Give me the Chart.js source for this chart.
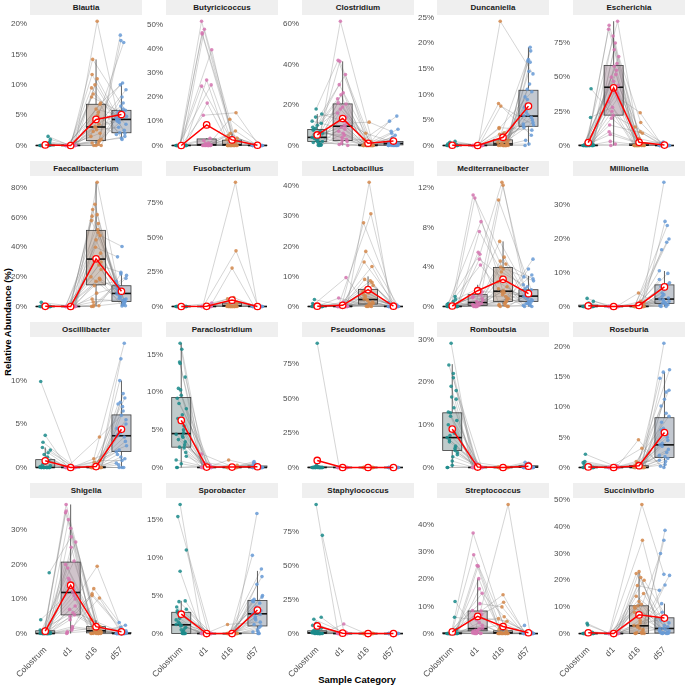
<!DOCTYPE html>
<html>
<head>
<meta charset="utf-8">
<script src="https://cdn.jsdelivr.net/npm/chart.js@4.4.1/dist/chart.umd.min.js"></script>
<style>
  body { margin: 0; background: #fff; font-family: 'Liberation Sans', Arial, sans-serif; }
  #wrap { position: relative; width: 685px; height: 685px; overflow: hidden; background: #fff; }
  canvas { position: absolute; }
  .strip { position: absolute; width: 112px; height: 15px; background: #efefef; color: #1a1a1a;
           font: bold 8px 'Liberation Sans', Arial, sans-serif; line-height: 15px; text-align: center; }
  .ytitle { position: absolute; left: 7px; top: 322px; white-space: nowrap; color: #000;
            font: bold 9.5px 'Liberation Sans', Arial, sans-serif; transform: translate(-50%, -50%) rotate(-90deg); }
  .xtitle { position: absolute; left: 357px; top: 679px; white-space: nowrap; color: #000;
            font: bold 9.5px 'Liberation Sans', Arial, sans-serif; transform: translate(-50%, -50%); }
</style>
</head>
<body>
<div id="wrap">
  <div class="ytitle">Relative Abundance (%)</div>
  <div class="xtitle">Sample Category</div>
</div>
<script>
// sample groups and genera (panels, left to right, top to bottom)
const CATEGORIES = ['Colostrum', 'd1', 'd16', 'd57'];
const GENERA = ['Blautia', 'Butyricicoccus', 'Clostridium', 'Duncaniella', 'Escherichia',
  'Faecalibacterium', 'Fusobacterium', 'Lactobacillus', 'Mediterraneibacter', 'Millionella',
  'Oscillibacter', 'Paraclostridium', 'Pseudomonas', 'Romboutsia', 'Roseburia',
  'Shigella', 'Sporobacter', 'Staphylococcus', 'Streptococcus', 'Succinivibrio'];

// y tick labels per panel (%)
const Y_TICKS = [
  [0, 5, 10, 15, 20], [0, 10, 20, 30, 40, 50], [0, 20, 40, 60], [0, 5, 10, 15, 20, 25], [0, 25, 50, 75],
  [0, 20, 40, 60, 80], [0, 25, 50, 75], [0, 10, 20, 30, 40], [0, 4, 8, 12], [0, 10, 20, 30],
  [0, 5, 10], [0, 5, 10, 15], [0, 25, 50, 75], [0, 10, 20, 30], [0, 5, 10, 15, 20],
  [0, 10, 20, 30], [0, 5, 10, 15], [0, 25, 50, 75], [0, 10, 20, 30, 40], [0, 10, 20, 30, 40, 50]
];

// group means (red line), per panel: Colostrum, d1, d16, d57
const MEAN = [
  [0.1, 0, 4.3, 5.1], [0, 8.5, 2.3, 0.1], [5.2, 13.3, 1.1, 2.2], [0.05, 0, 1.6, 7.7], [2.1, 42.2, 2.3, 0.3],
  [0.1, 0, 32.2, 10.3], [0, 0.1, 4.6, 0], [0.1, 0.4, 5.6, 0.1], [0.05, 1.6, 2.75, 1.3], [0.2, 0, 0.3, 5.8],
  [0.77, 0, 0.1, 4.4], [6.25, 0.05, 0.05, 0.1], [5.1, 0, 0, 0], [9, 0.1, 0, 0.3], [0.1, 0, 0.3, 5.8],
  [0.7, 14, 2, 0.5], [2.55, 0, 0, 3.1], [5.6, 0.3, 0, 0], [0.6, 6.3, 2.6, 0.3], [0.3, 0, 7, 5.8]
];

// boxplot statistics
const WHISK_LO = [
  [0, 0, 0, 1.0], [0, 0, 0, 0], [0, 0, 0, 0], [0, 0, 0, 0], [0, 0, 0, 0],
  [0, 0, 0, 0.3], [0, 0, 0, 0], [0, 0, 0, 0], [0, 0, 0, 0], [0, 0, 0, 0],
  [0, 0, 0, 0], [0, 0, 0, 0], [0, 0, 0, 0], [0, 0, 0, 0], [0, 0, 0, 0],
  [0, 0, 0, 0], [0, 0, 0, 0], [0, 0, 0, 0], [0, 0, 0, 0], [0, 0, 0, 0]
];
const Q1 = [
  [0, 0, 0.8, 2.1], [0, 0, 0, 0], [2, 2.4, 0, 0.3], [0, 0, 0, 3.75], [0, 22.2, 0, 0],
  [0, 0, 14.6, 3.4], [0, 0, 0, 0], [0, 0, 0.8, 0], [0, 0.1, 0.5, 0.5], [0, 0, 0, 0.9],
  [0, 0, 0, 1.85], [2.7, 0, 0, 0], [0, 0, 0, 0], [4, 0, 0, 0], [0, 0, 0, 1.65],
  [0, 5.4, 0.2, 0], [0, 0, 0, 1], [0, 0, 0, 0], [0, 1, 0, 0], [0, 0, 0, 0.2]
];
const MEDIAN = [
  [0, 0, 3.05, 4.3], [0, 0.3, 0.3, 0], [4, 9.5, 0, 1], [0, 0, 0.3, 5.75], [0, 42.6, 0.2, 0],
  [0, 0, 32, 8.8], [0, 0, 0.5, 0], [0, 0, 2.3, 0], [0, 0.4, 1.55, 1.05], [0, 0, 0, 2.2],
  [0, 0, 0, 3.65], [4.5, 0, 0, 0], [0, 0, 0, 0], [7, 0, 0, 0.1], [0, 0, 0, 3.75],
  [0, 11.9, 0.8, 0], [1.15, 0, 0, 2.6], [0.5, 0, 0, 0], [0, 1.8, 0.3, 0], [0, 0, 2.9, 1.9]
];
const Q3 = [
  [0, 0, 6.8, 5.8], [0, 2.7, 2.2, 0.1], [7.9, 20.5, 0.5, 2], [0, 0, 1.1, 10.8], [0.3, 58.5, 1.2, 0],
  [0, 0, 51.4, 14], [0, 0, 2.5, 0], [0, 0.2, 5.7, 0], [0, 1.2, 3.95, 1.7], [0.4, 0, 0.1, 6.4],
  [0.9, 0, 0.1, 6.05], [9.3, 0, 0, 0.2], [0.2, 0, 0, 0], [12.8, 0, 0, 0.4], [0, 0, 0.3, 8.25],
  [0.8, 20.7, 2, 0.3], [2.8, 0, 0, 4.35], [2, 0, 0, 0], [0.3, 8.3, 1, 0], [0, 0, 10.4, 5.9]
];
const WHISK_HI = [
  [0, 0, 14.2, 10.3], [0, 3, 5, 0.2], [15.5, 41.5, 1, 4], [0, 0, 2.5, 19.2], [0.8, 90.9, 3, 0],
  [0, 0, 83.9, 23], [0, 0, 5.5, 0], [0, 0.5, 10, 0], [0.2, 2.2, 6.6, 3.1], [1, 0, 0.3, 10.5],
  [2.3, 0, 0.2, 10], [16.5, 0, 0, 0.5], [0.5, 0, 0, 0], [24.2, 0, 0, 1], [0.2, 0, 0.8, 15.8],
  [1.8, 37.4, 3.9, 0.8], [4.3, 0, 0, 8.25], [4.5, 0, 0, 0], [0.8, 20.2, 2.5, 0], [0.3, 0, 22.9, 11.2]
];

// per-subject relative abundance (%), same subject order in every group of a panel
const COLOSTRUM = [
  [0,0,1.5,0,0,0.4,0,0,1.0,0, 0,0,0.2,0,0,0,0.6,0,0,0, 0,0.3,0,0,0,0,0,0.1,0,0],
  [0,0,0,0,0,0,0,0,0,0, 0,0,0,0,0,0,0,0,0.2,0, 0,0,0,0,0,0,0,0,0,0],
  [4,18,0.5,7.5,2,11,3.5,0,6,14, 1,9,4.5,0.3,8,2.5,15.5,5,0.8,12, 3,7,1.5,10,0.2,5.5,4,2,8.5,0],
  [0,0,0.8,0,0,0,0.5,0,0,0, 0,0.3,0,0,0,0,0,0.6,0,0, 0,0,0,0,0.2,0,0,0,0,0],
  [0,0,41.5,0,1,0,0,0,0.5,0, 20.5,0,0,2,0,0,0,0,1.5,0, 0,0,0.3,0,0,0,0,0,0,0.8],
  [0,0,0,2.8,0,0,0,0,0,0, 0,0,0.2,0,0,0,0,0,0,0, 0,0,0,0,0,0.4,0,0,0,0],
  [0,0,0,0,0,0,0,0,0,0, 0,0,0,0,0,0,0,0,0,0, 0,0,0,0,0,0,0,0,0,0],
  [0,0,0,0.5,0,0,2.3,0,0,0, 0,1,0,0,0,0,0,0,0.3,0, 0,0,0,0,0,0,0,0,0,0],
  [0,0,1.0,0,0,0,0,0.5,0,0, 0,0,0,0.7,0,0,0,0,0,0.2, 0,0,0.3,0,0,0,0,0,0,0],
  [0,2.4,0,0,0.5,0,0,0,1.5,0, 0,0,0.2,0,0,1,0,0,0,0, 0,0.4,0,0,0,0,0,0,0,0],
  [0,1.5,0,0,3.7,0,0.3,0,2.0,0, 0,9.9,0,0.8,0,1.0,0,2.9,0,0.1, 0,1.7,0,0.5,0,2.3,0,0.2,0,1.2],
  [4.4,16.5,2.6,9.2,0.5,12,3.7,7,1.5,14, 4.6,0,10.3,3,6.5,15.7,2,8.5,4,1, 13.8,5.5,0,9.6,3.4,10.5,4.2,7.8,2.7,5],
  [0,0,0,0,90.3,0,0,0.5,0,0, 0,0,1.5,0,0,0,0,0,0,0, 1,0,0,0,0,0.3,0,0,0,0],
  [7,29.1,4,13,0.5,18,6,22,3,12, 9,0,16.5,5,24,2.5,11,7.5,14,0, 19,4.5,10,1.5,16,6.5,21,3.5,12.8,8],
  [0,0,0,0.5,0,0,2.2,0,0,0, 0.3,0,0,0,1,0,0,0,0,0.8, 0,0,0,0.2,0,0,0,0,0,0],
  [0,0,0,0.8,0,17.6,0,0,0.3,0, 0,4.0,0,0,0,0.5,0,0,0,1.0, 0,0,0.2,0,0,0,0,0,0,0],
  [1.2,17,0,2.8,0.5,4.3,1.5,0,11,2, 0.3,3.5,1,0,15.4,2.4,0.8,4.2,0,1.8, 8.2,0.6,3,1.1,0,2.6,0.2,3.2,1.3,0],
  [0.5,95.3,0,2,0,12,1,0,72.5,0.3, 0,6,1.5,0,10.5,0.2,0,3,0,0.8, 7.5,0,1.2,0,4,0,2.5,0,0,0],
  [0,0,11.8,0,0.5,0,0,1.2,0,0, 6,0,0,0.3,0,0,1.5,0,0,0, 0.8,0,0,0,0,0,0,0,0,0],
  [0,3.8,0,0,0,0.5,0,0,0,0, 0,0,3.2,0,0,0.8,0,0,0,0, 0,0,0,0.3,0,0,0,0,0,0]
];
const D1 = [
  [0,0,0,0,0,0,0,0,0,0, 0,0,0,0,0,0,0,0,0,0, 0,0,0,0,0,0,0,0,0,0],
  [0,46.5,0.3,0,12.5,0,25,0,1,51.3, 0,0.5,0,27,0,2,0,39.5,0.1,0, 46,0,3,0,17.5,0.2,48,0,24.5,0.8],
  [9.5,42,2.4,20.5,0.5,26,11,61.3,5,16, 1,35,7,19,3,41.5,12,0,25,8, 21,4,14,30,6,2,18,10,23,9],
  [0,0,0,0,0,0,0,0,0,0, 0,0,0,0,0,0,0,0,0,0, 0,0,0,0,0,0,0,0,0,0],
  [43,88,22,60,8,70,35,50,1,85, 28,55,15,47,90.9,0,40,65,25,52, 10,80,38,3,58,44,20,75,32,42],
  [0,0,0,0,0,0,0,0,0,0, 0,0,0,0,0,0,0,0,0,0, 0,0,0,0,0,0,0,0,0,0],
  [0,0,0,0,0,0,0,0,0,0, 0,0,0,0,0,0,0,2.5,0,0, 0,0,0,0,0,0,0,0,0,0],
  [0,0,0,9.6,0,0,0,0.5,0,0, 0,0,2.8,0,0,0,0,0,0,1, 0,0,0,0,1.5,0,0,0.3,0,0],
  [0.3,11.3,0,1.2,0.1,5.5,0.8,0,7.6,0.2, 0.5,4.2,0,1.8,0.3,11,0.1,0.6,0,5.3, 1,0.2,8.6,0,0.4,1.5,0,4.8,0.9,0],
  [0,0,0,0,0,0,0,0,0,0, 0,0,0,0,0,0,0,0,0,0, 0,0,0,0,0,0,0,0,0,0],
  [0,0,0,0,0,0,0,0,0,0, 0,0,0,0,0,0,0,0,0,0, 0,0,0,0,0,0,0,0,0,0],
  [0,0,0,0,0,0,0,0,0,1.8, 0,0,0,0,0,0.7,0,0,0,0, 0,0,0.3,0,0,0,0,0,0,0],
  [0,0,0,0,0,0,0,0,0,0, 0,0,0,0,0,0,0,0,0,0, 0,0,0,0,0,0,0,0,0,0],
  [0,0,0,0,0,0,0,1.2,0,0, 0,0,0,0,0,0.5,0,0,0,0, 0,0,0,0,0,0,0.2,0,0,0],
  [0,0,0,0,0,0,0,0,0,0, 0,0,0,0,0,0,0,0,0,0, 0,0,0.3,0,0,0,0,0,0,0],
  [12,37.4,5,21,0.5,28,10,16,2,35, 7,13,0,30.5,5.4,19,1,26.5,14,6, 35.5,4,11,0.2,25,8,33,1.5,20,15.5],
  [0,0,0,0,0,0,0,0,0,0, 0,0,0,0,0,0,0,0,0,0, 0,0,0,0,0,0,0,0,0,0],
  [0,0,0,0,0,0,0,0,0,0, 0,0,0,0,0,0,7,0,0,0, 0,0,1,0,0,0,0,0,0.5,0],
  [1.8,37,0.5,8.3,0,24.8,3,1.2,16.5,0.2, 5,0,29,1,7,0.3,20.2,2,0,11, 0.8,25,0.1,6,1.5,14.8,0,4,8.5,0],
  [0,0,0,0,0,0,0,0,0,0, 0,0,0,0,0,0,0,0,0,0, 0,0,0,0,0,0,0,0,0,0]
];
const D16 = [
  [3.1,0.6,11.7,0,6.8,2.3,20.5,1.0,4.5,0.2, 9.5,3.0,0.8,14.2,2.6,7.0,0,5.0,1.5,10.0, 3.5,0.4,6.0,2.0,8.5,11.0,0,4.0,5.5,8.0],
  [0,2,0,0.5,13.5,0,0,3,0,1, 0,0,6,0,0.2,0,10.8,0,2.5,0, 0,4,0,1.5,0,0.3,0,5,0,0],
  [0,0,3,0,0,0,11.5,0,0,0.5, 0,0,0,1,0,0,6,0,0,0, 2,0,0,0,0.3,0,0,0,0,0],
  [0.5,0,3.5,0,0.2,24.3,0,1,0.3,0, 8.2,0.1,0,2.2,0,0.4,7.7,0,0.6,1.5, 0,3.3,0,0.3,0,2.5,0,1.2,0.8,0],
  [0,0,13.5,0,0.5,0,24,0,0,2, 0,0,9,0,0,0.3,0,16.8,0,0, 1,0,5,0,0,10,0,3,0,0],
  [32,0.5,61,17,48,3,83.9,25,14,56, 0,40,19,65.5,9,36,1,52,20,69, 28,5,45,18,0,62,30,33,50,58],
  [0,0,1,0,40.3,0,0,3,0,0, 0.5,0,90,0,0,2,0,6.5,0,0, 0.3,0,27.8,0,1.5,0,0,4,0,5.5],
  [2.3,0.5,14.8,0,8,3.5,41.3,1,6,0.2, 27.8,2,0,9,4.5,1.5,18.3,0.8,5,0, 30.8,2.5,0.3,13.3,3,1.2,7,0.1,8.5,4],
  [1.5,4.3,0.2,12.3,2.0,0,5.0,0.8,3.5,0.1, 10.8,1.2,0.5,6.6,1.6,0,4.0,0.3,2.5,12.6, 1.0,0.1,3.8,0.7,4.6,1.4,0,3.0,0.4,1.8],
  [0,0,0,0,0,0,0.5,0,0,0, 0,4,0,0,0,0,0,1.5,0,0, 0,0,0.2,0,0,0,1,0,0,0],
  [0,0,0,0,0,0,0.4,0,0,0, 0,0,3.5,0,0,0,1.0,0,0,0.2, 0,0,0,0.8,0,0,0,0.6,0,0],
  [0,0,0,0,0,0,0,0,0,0, 0,0,0,1.0,0,0,0,0,0,0, 0,0,0,0,0,0,0.3,0,0,0],
  [0,0,0,0,0,0,0,0,0,0, 0,0,0,0,0,0,0,0,0,0, 0,0,0,0,0,0,0,0,0,0],
  [0,0,0,0,0,0,0,0,0,0, 0,0,0,0,0,0,0,0,0.1,0, 0,0,0,0,0,0,0,0,0,0],
  [0,0,0,0,0,0.5,0,0,0,0, 0,4.6,0,0,0,0,0.2,0,0,0, 3.2,0,0,0,1.0,0,0,0.8,0,0.3],
  [0.8,0,11.5,0.2,2,0,19.5,0.5,1.2,0, 4,0.3,10.3,0.1,1.5,0,13,0.7,0,2.5, 0.4,11,0,0.9,1.8,0,0.2,1,0,0],
  [0,0,0,0,0,0,0,0,0,0, 1.2,0,0,0,0,0,0,0,0,0, 0,0,0,0,0,0,0,0,0,0],
  [0,0,0,0,0,0,0,0,0,0, 0,0,0,0,0,0,0,0,0,0, 0,0,0,0,0,0,0,0,0,0],
  [0,0.5,0,14.3,0,2.5,0,47.5,0.2,0, 5.5,0,1,0,11.5,0,0.3,3.5,0,9.8, 0,1.5,0,4.5,0,6.2,0,0,0,0],
  [2.9,48.4,0,12,1,22.5,4,0,18,0.5, 10,7,35,0,2,15,0.3,21,3,10.4, 0,9.5,23.2,1.5,14,5,20,2.5,11,8]
];
const D57 = [
  [4.3,17.3,2.0,5.5,1.0,9.2,3.8,6.0,4.5,18.2, 2.5,4.0,1.2,5.8,3.0,10.3,4.8,2.1,17.0,4.2, 6.5,1.5,5.0,8.0,3.5,4.3,7.0,1.8,10.0,5.2],
  [0,0,0,0,0.5,0,0,0,0,0, 0,0.2,0,0,0,0,0,0,0,0, 0.1,0,0,0,0,0,0,0,0,0],
  [1,0,14.5,0.5,2,0,7,1.5,0,4, 0.3,12,0,1,2.5,0,0.8,6,0,0.5, 3,0,1.5,0.2,8,0,5,0,2,0],
  [5.8,16.5,3,9.5,0.3,14,6.5,19.2,4.2,11, 2,7.5,16.8,5,1,12,4,8,18.5,3.5, 6,10.5,0,14.5,4.5,7,16.3,3.8,9,5.5],
  [0,0,0,1,0,0,0,0,0,2.5, 0,0,0,0,0,0.5,0,0,0,0, 0,0,1.5,0,0,0,0,0,0,0],
  [8.5,22,3,14,40.5,5,11,1,17,6, 2.5,33.5,9,0.5,13,4,21,7,1.5,12, 23,3.5,10,0.3,19,5.5,2,15,8,4.5],
  [0,0,0,0,0,0,0,0,0,0, 0,0,0,0,0,0,0,0,0,0, 0,0,0,0,0,0,0,0,0,0],
  [0,0,0,0,0,0,0,0,1.3,0, 0,0,0,0,0,0,0,0,0,0, 0,0.5,0,0,0,0,0,0,0,0],
  [1.0,0.3,3.2,1.5,0.5,4.8,1.1,0.1,2.2,0.8, 1.7,0,3.8,0.6,1.2,0.2,2.6,1.0,0.4,3.0, 0.9,0,1.8,0.5,2.8,0.3,1.4,0.1,2.0,0.7],
  [2.2,36.8,0.5,6,1.2,20,3,0,10.6,1.8, 24,0.3,5,2.5,16.8,0.8,7,1,19,0.2, 3.5,9.8,0,25.2,1.5,4,0.6,8,2,6.5],
  [3.6,12.5,1,7.3,0,5,2,8.5,0.5,4, 14.3,1.5,6,3,0.3,7,2.5,10,0,4.5, 1.2,8,3.8,0.8,5.5,0,6.5,1.8,7.5,3.5],
  [0,0.3,0,0.8,0,0,0.5,0,0.2,0, 0,0.6,0,0,0.4,0,0,0.1,0,0, 0,0,0,0,0,0,0,0,0,0],
  [0,0,0,0,0,0,0,0,0,0, 0,0,0,0,0,0,0,0,0,0, 0,0,0,0,0,0,0,0,0,0],
  [0,0.4,0,1.2,0,0,0.6,0,0,0.2, 0,0,1.0,0,0,0.8,0,0,0,0.3, 0,0,0,0,0,0,0,0,0,0],
  [3.75,20.6,1.5,6.2,0.5,12.8,4,9,2,15.8, 5,0.2,11.3,3,7.5,1,16.2,6,2.5,14.8, 0,4.5,10.2,1.8,8.5,3.5,12.5,1.2,6.5,5.5],
  [0,0,0.5,0,0,0,3.2,0,0,1.2, 0,0,0,2.4,0,0,0.3,0,0,0, 1.8,0,0,0,0.8,0,0,0,0,0],
  [2.6,15.8,1,4.5,0.3,7.5,2.2,0,10.3,3.5, 1.5,4.2,0.5,8.5,2.8,0,5,1.8,4,0.2, 6.5,3,1.2,0,4.8,2,0.8,4.3,3.2,2.5],
  [0,0,0,0,0,0,0,0,0,0, 0,0,0,0,0,0,0,0,0,0, 0,0,0,0,0,0,0,0,0,0],
  [0,0,0,0,0,0,0,0,0,0, 0,3,0,0,0,0,0,0,0,0, 0,0.5,0,0,0,0,0,0.2,0,0],
  [1.9,22.2,0.3,5,38.7,1,8,0,16.2,2, 0.5,30,3,0.1,11.2,1.5,21.8,0,5.9,0.8, 35,2.5,0.2,18.2,4,0,6.5,1.2,0.4,0]
];

const GROUPS = [COLOSTRUM, D1, D16, D57];
const POINT_COLORS = ['rgba(27,139,139,0.85)', 'rgba(213,118,176,0.85)', 'rgba(212,136,76,0.85)', 'rgba(104,155,214,0.85)'];
const BOX_FILLS = ['rgba(115,140,140,0.45)', 'rgba(150,125,140,0.45)', 'rgba(150,126,108,0.45)', 'rgba(122,134,150,0.45)'];

Chart.defaults.font.family = "'Liberation Sans', Arial, sans-serif";

// horizontal spread of the points inside a group
function jitter(i, k) {
  return (((i * 7 + k * 13) % 19) / 18 - 0.5) * 0.4;
}

function boxPlugin(p) {
  return {
    id: 'boxes',
    afterDatasetDraw(chart, args) {
      if (args.index !== 3) return; // right after the subject lines
      const xs = chart.scales.x, ys = chart.scales.y, ctx = chart.ctx;
      ctx.save();
      for (let k = 0; k < 4; k++) {
        const cx = xs.getPixelForValue(k);
        const hw = xs.getPixelForValue(k + 0.375) - cx;
        const lo = ys.getPixelForValue(WHISK_LO[p][k]);
        const q1 = ys.getPixelForValue(Q1[p][k]);
        const med = ys.getPixelForValue(MEDIAN[p][k]);
        const q3 = ys.getPixelForValue(Q3[p][k]);
        const hi = ys.getPixelForValue(WHISK_HI[p][k]);
        ctx.strokeStyle = '#3a3a3a';
        ctx.lineWidth = 0.8;
        ctx.beginPath();
        ctx.moveTo(cx, q3); ctx.lineTo(cx, hi);
        ctx.moveTo(cx, q1); ctx.lineTo(cx, lo);
        ctx.stroke();
        ctx.fillStyle = BOX_FILLS[k];
        ctx.fillRect(cx - hw, q3, 2 * hw, q1 - q3);
        ctx.strokeRect(cx - hw, q3, 2 * hw, q1 - q3);
        ctx.strokeStyle = '#111';
        ctx.lineWidth = 1.6;
        ctx.beginPath();
        ctx.moveTo(cx - hw, med); ctx.lineTo(cx + hw, med);
        ctx.stroke();
      }
      ctx.restore();
    }
  };
}

const wrap = document.getElementById('wrap');

GENERA.forEach((name, p) => {
  const r = Math.floor(p / 5), c = p % 5;
  const left = Math.round(30 + c * 135.75);
  const top = r * 161;
  const bottomRow = r === 3;

  const cv = document.createElement('canvas');
  cv.width = 140;
  cv.height = 148 + (bottomRow ? 48 : 0);
  cv.style.left = (left - 28) + 'px';
  cv.style.top = (top + 15 - 6) + 'px';
  wrap.appendChild(cv);

  const strip = document.createElement('div');
  strip.className = 'strip';
  strip.style.left = left + 'px';
  strip.style.top = top + 'px';
  strip.textContent = name;
  wrap.appendChild(strip);

  const n = Math.max(...GROUPS.map(g => g[p].length));
  const subjectLines = [], points = [], pointColors = [];
  for (let i = 0; i < n; i++) {
    for (let k = 0; k < 4; k++) {
      const v = GROUPS[k][p][i];
      if (v === undefined) continue;
      const pt = { x: k + jitter(i, k), y: v };
      subjectLines.push(pt);
      points.push(pt);
      pointColors.push(POINT_COLORS[k]);
    }
    subjectLines.push({ x: 3, y: null });
  }
  const means = MEAN[p].map((m, k) => ({ x: k, y: m }));

  let yMax = 0;
  GROUPS.forEach(g => g[p].forEach(v => { yMax = Math.max(yMax, v); }));
  WHISK_HI[p].forEach(v => { yMax = Math.max(yMax, v); });

  new Chart(cv, {
    type: 'scatter',
    data: {
      datasets: [
        { data: means, showLine: true, borderColor: '#ff0000', borderWidth: 1.5, pointRadius: 0, order: 0 },
        { data: means, pointRadius: 3.2, pointBackgroundColor: '#ffffff', pointBorderColor: '#ff0000',
          pointBorderWidth: 1.3, order: 1 },
        { data: points, pointRadius: 1.8, pointBorderWidth: 0, pointBackgroundColor: pointColors, order: 2 },
        { data: subjectLines, showLine: true, spanGaps: false, borderColor: 'rgba(125,125,125,0.55)',
          borderWidth: 0.6, pointRadius: 0, order: 3 }
      ]
    },
    options: {
      responsive: false,
      animation: false,
      events: [],
      layout: { padding: { top: 6, left: 0, right: 0, bottom: 0 } },
      plugins: { legend: { display: false }, tooltip: { enabled: false } },
      scales: {
        x: {
          type: 'linear', min: -0.6, max: 3.6, display: bottomRow,
          grid: { display: false, drawTicks: false }, border: { display: false },
          afterBuildTicks: s => { s.ticks = CATEGORIES.map((_, k) => ({ value: k })); },
          ticks: { autoSkip: false, minRotation: 45, maxRotation: 45, padding: 5, color: '#4d4d4d',
                   font: { size: 8.5 }, callback: v => CATEGORIES[v] },
          afterFit: s => {
            s.height = bottomRow ? 48 : 0;
            s.paddingLeft = 0;
            s.paddingRight = 0;
          }
        },
        y: {
          type: 'linear', min: -0.05 * yMax, max: 1.05 * yMax,
          grid: { display: false, drawTicks: false }, border: { display: false },
          afterBuildTicks: s => { s.ticks = Y_TICKS[p].map(v => ({ value: v })); },
          ticks: { padding: 3, color: '#4d4d4d', font: { size: 8 }, callback: v => v + '%' },
          afterFit: s => { s.width = 28; s.paddingTop = 0; s.paddingBottom = 0; }
        }
      }
    },
    plugins: [boxPlugin(p)]
  });
});
</script>
</body>
</html>
